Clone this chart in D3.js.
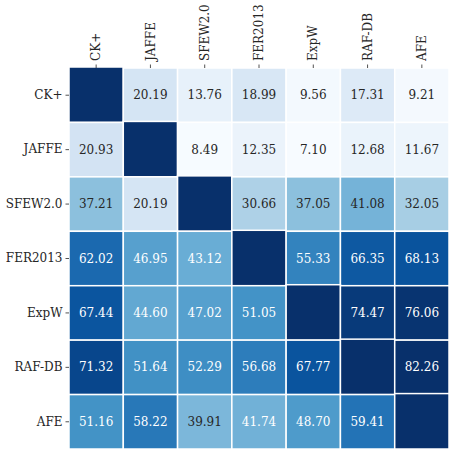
<!DOCTYPE html>
<html>
<head>
<meta charset="utf-8">
<script src="https://cdn.jsdelivr.net/npm/d3@7/dist/d3.min.js"></script>
<style>
  html, body { margin: 0; padding: 0; background: #fff; }
  svg { display: block; }
  text { font-family: "DejaVu Serif", serif; }
</style>
</head>
<body>
<svg id="chart" width="456" height="454"></svg>
<script>
// ---- data ----
const rowLabels = ["CK+", "JAFFE", "SFEW2.0", "FER2013", "ExpW", "RAF-DB", "AFE"];
const colLabels = ["CK+", "JAFFE", "SFEW2.0", "FER2013", "ExpW", "RAF-DB", "AFE"];
// null = diagonal (masked, drawn dark)
const rowCK     = [null, 20.19, 13.76, 18.99, 9.56, 17.31, 9.21];
const rowJAFFE  = [20.93, null, 8.49, 12.35, 7.10, 12.68, 11.67];
const rowSFEW   = [37.21, 20.19, null, 30.66, 37.05, 41.08, 32.05];
const rowFER    = [62.02, 46.95, 43.12, null, 55.33, 66.35, 68.13];
const rowExpW   = [67.44, 44.60, 47.02, 51.05, null, 74.47, 76.06];
const rowRAF    = [71.32, 51.64, 52.29, 56.68, 67.77, null, 82.26];
const rowAFE    = [51.16, 58.22, 39.91, 41.74, 48.70, 59.41, null];
const matrix = [rowCK, rowJAFFE, rowSFEW, rowFER, rowExpW, rowRAF, rowAFE];

// matplotlib "Blues"
const bluesStops = ["#f7fbff", "#deebf7", "#c6dbef", "#9ecae1", "#6baed6",
                    "#4292c6", "#2171b5", "#08519c", "#08306b"];

// ---- layout ----
const svg = d3.select("#chart");
const x = d3.scaleBand().domain(colLabels).range([69, 449]);
const y = d3.scaleBand().domain(rowLabels).range([68, 449]);

const cells = [];
matrix.forEach((row, i) => row.forEach((v, j) => cells.push({ r: rowLabels[i], c: colLabels[j], v })));

const vals = cells.filter(d => d.v !== null).map(d => d.v).sort(d3.ascending);
const vmin = d3.quantile(vals, 0.02);
const vmax = d3.quantile(vals, 0.98);
const interp = d3.piecewise(d3.interpolateRgb, bluesStops);
const norm = d3.scaleLinear().domain([vmin, vmax]).range([0, 1]).clamp(true);
const color = v => v === null ? bluesStops[8] : interp(norm(v));

function lum(c) {
  const rgb = d3.rgb(c);
  const f = u => { u /= 255; return u <= 0.03928 ? u / 12.92 : Math.pow((u + 0.055) / 1.055, 2.4); };
  return 0.2126 * f(rgb.r) + 0.7152 * f(rgb.g) + 0.0722 * f(rgb.b);
}

svg.append("g").selectAll("rect").data(cells).join("rect")
  .attr("x", d => x(d.c))
  .attr("y", d => y(d.r) - (d.v === null ? 1 : 0))
  .attr("width", x.bandwidth())
  .attr("height", d => y.bandwidth() + (d.v === null ? 1 : 0))
  .attr("fill", d => color(d.v))
  .attr("stroke", "#fff")
  .attr("stroke-width", 1.5);

svg.append("g").selectAll("text").data(cells.filter(d => d.v !== null)).join("text")
  .attr("x", d => x(d.c) + x.bandwidth() / 2)
  .attr("y", d => y(d.r) + y.bandwidth() / 2)
  .attr("text-anchor", "middle")
  .attr("dominant-baseline", "central")
  .attr("font-size", 12)
  .attr("fill", d => lum(color(d.v)) > 0.408 ? "#262626" : "#ffffff")
  .text(d => d.v.toFixed(2));

// row axis (left)
const yAxis = d3.axisLeft(y).tickSize(3.5).tickPadding(3);
const gy = svg.append("g").attr("transform", "translate(69,0)").call(yAxis);
gy.select(".domain").remove();
gy.selectAll("line").attr("stroke", "#262626").attr("stroke-width", 0.8);
gy.selectAll("text").attr("font-size", 12).attr("fill", "#262626").attr("font-family", "DejaVu Serif");

// column axis (top), labels rotated
const xAxis = d3.axisTop(x).tickSize(3.5).tickPadding(3);
const gx = svg.append("g").attr("transform", "translate(0,68)").call(xAxis);
gx.select(".domain").remove();
gx.selectAll("line").attr("stroke", "#262626").attr("stroke-width", 0.8);
gx.selectAll("text")
  .attr("font-size", 12).attr("fill", "#262626").attr("font-family", "DejaVu Serif")
  .attr("transform", "rotate(-90)")
  .attr("x", 7).attr("y", 0).attr("dy", "0.35em")
  .attr("text-anchor", "start");
</script>
</body>
</html>
